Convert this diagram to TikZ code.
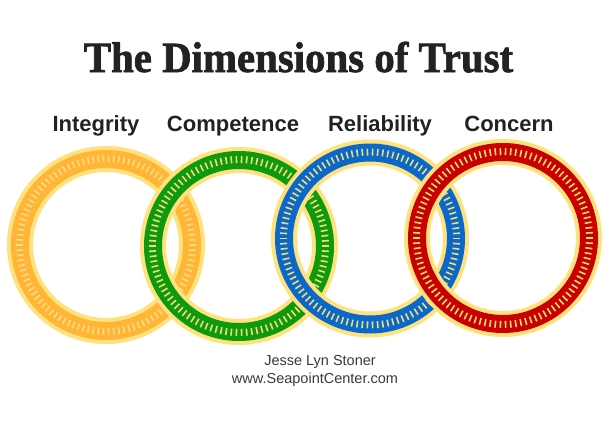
\documentclass[tikz,border=0pt]{standalone}
\usepackage{fontspec}
\usepackage{graphicx}
\setmainfont{Liberation Sans}
\newfontfamily\titlefont[BoldFeatures={FakeBold=1.6}]{Liberation Serif}
\definecolor{ringyellow}{HTML}{FFE27D}
\definecolor{tickyellow}{HTML}{F4DC74}
\definecolor{orangeband}{HTML}{FFB535}
\definecolor{orangetick}{HTML}{FFDB85}
\definecolor{greenband}{HTML}{0E9A0E}
\definecolor{blueband}{HTML}{0968C9}
\definecolor{redband}{HTML}{C80000}
\definecolor{titlecol}{HTML}{222222}
\definecolor{labelcol}{HTML}{222222}
\definecolor{smallcol}{HTML}{3A3A3A}
\newcommand{\trustring}[4]{%
  \begin{scope}[shift={(#1,#2)}]
    \fill[ringyellow, even odd rule] (0,0) circle[radius=99pt] (0,0) circle[radius=73pt];
    \fill[#3, even odd rule] (0,0) circle[radius=95pt] (0,0) circle[radius=77pt];
    \foreach \k in {0,...,105}
      \draw[#4, line width=1.6pt] ({3.396226*\k}:83pt) -- ({3.396226*\k}:90pt);
  \end{scope}}
\begin{document}
\begin{tikzpicture}[x=1pt,y=-1pt,
  ringlabel/.style={font=\bfseries\fontsize{22}{26}\selectfont, text=labelcol, anchor=base, inner sep=0pt},
  smalltext/.style={font=\fontsize{14.5}{17}\selectfont, text=smallcol, anchor=base, inner sep=0pt}]
\useasboundingbox[fill=white] (0,0) rectangle (610,423);
\node[font=\titlefont\bfseries\fontsize{43}{50}\selectfont, text=titlecol, anchor=base, inner sep=0pt] (title) at (298.5,72) {\scalebox{0.95}[1]{The Dimensions of Trust}};
\node[ringlabel] (integrity) at (96,131) {Integrity};
\node[ringlabel] (competence) at (233,131) {Competence};
\node[ringlabel] (reliability) at (380,131) {Reliability};
\node[ringlabel] (concern) at (509,131) {Concern};
\trustring{106}{245}{orangeband}{orangetick}
\trustring{239}{246}{greenband}{tickyellow}
\trustring{370}{238.5}{blueband}{tickyellow}
\trustring{503}{238}{redband}{tickyellow}
\node[smalltext] (author) at (320,365) {Jesse Lyn Stoner};
\node[smalltext] (site) at (315,383) {www.SeapointCenter.com};
\end{tikzpicture}
\end{document}
